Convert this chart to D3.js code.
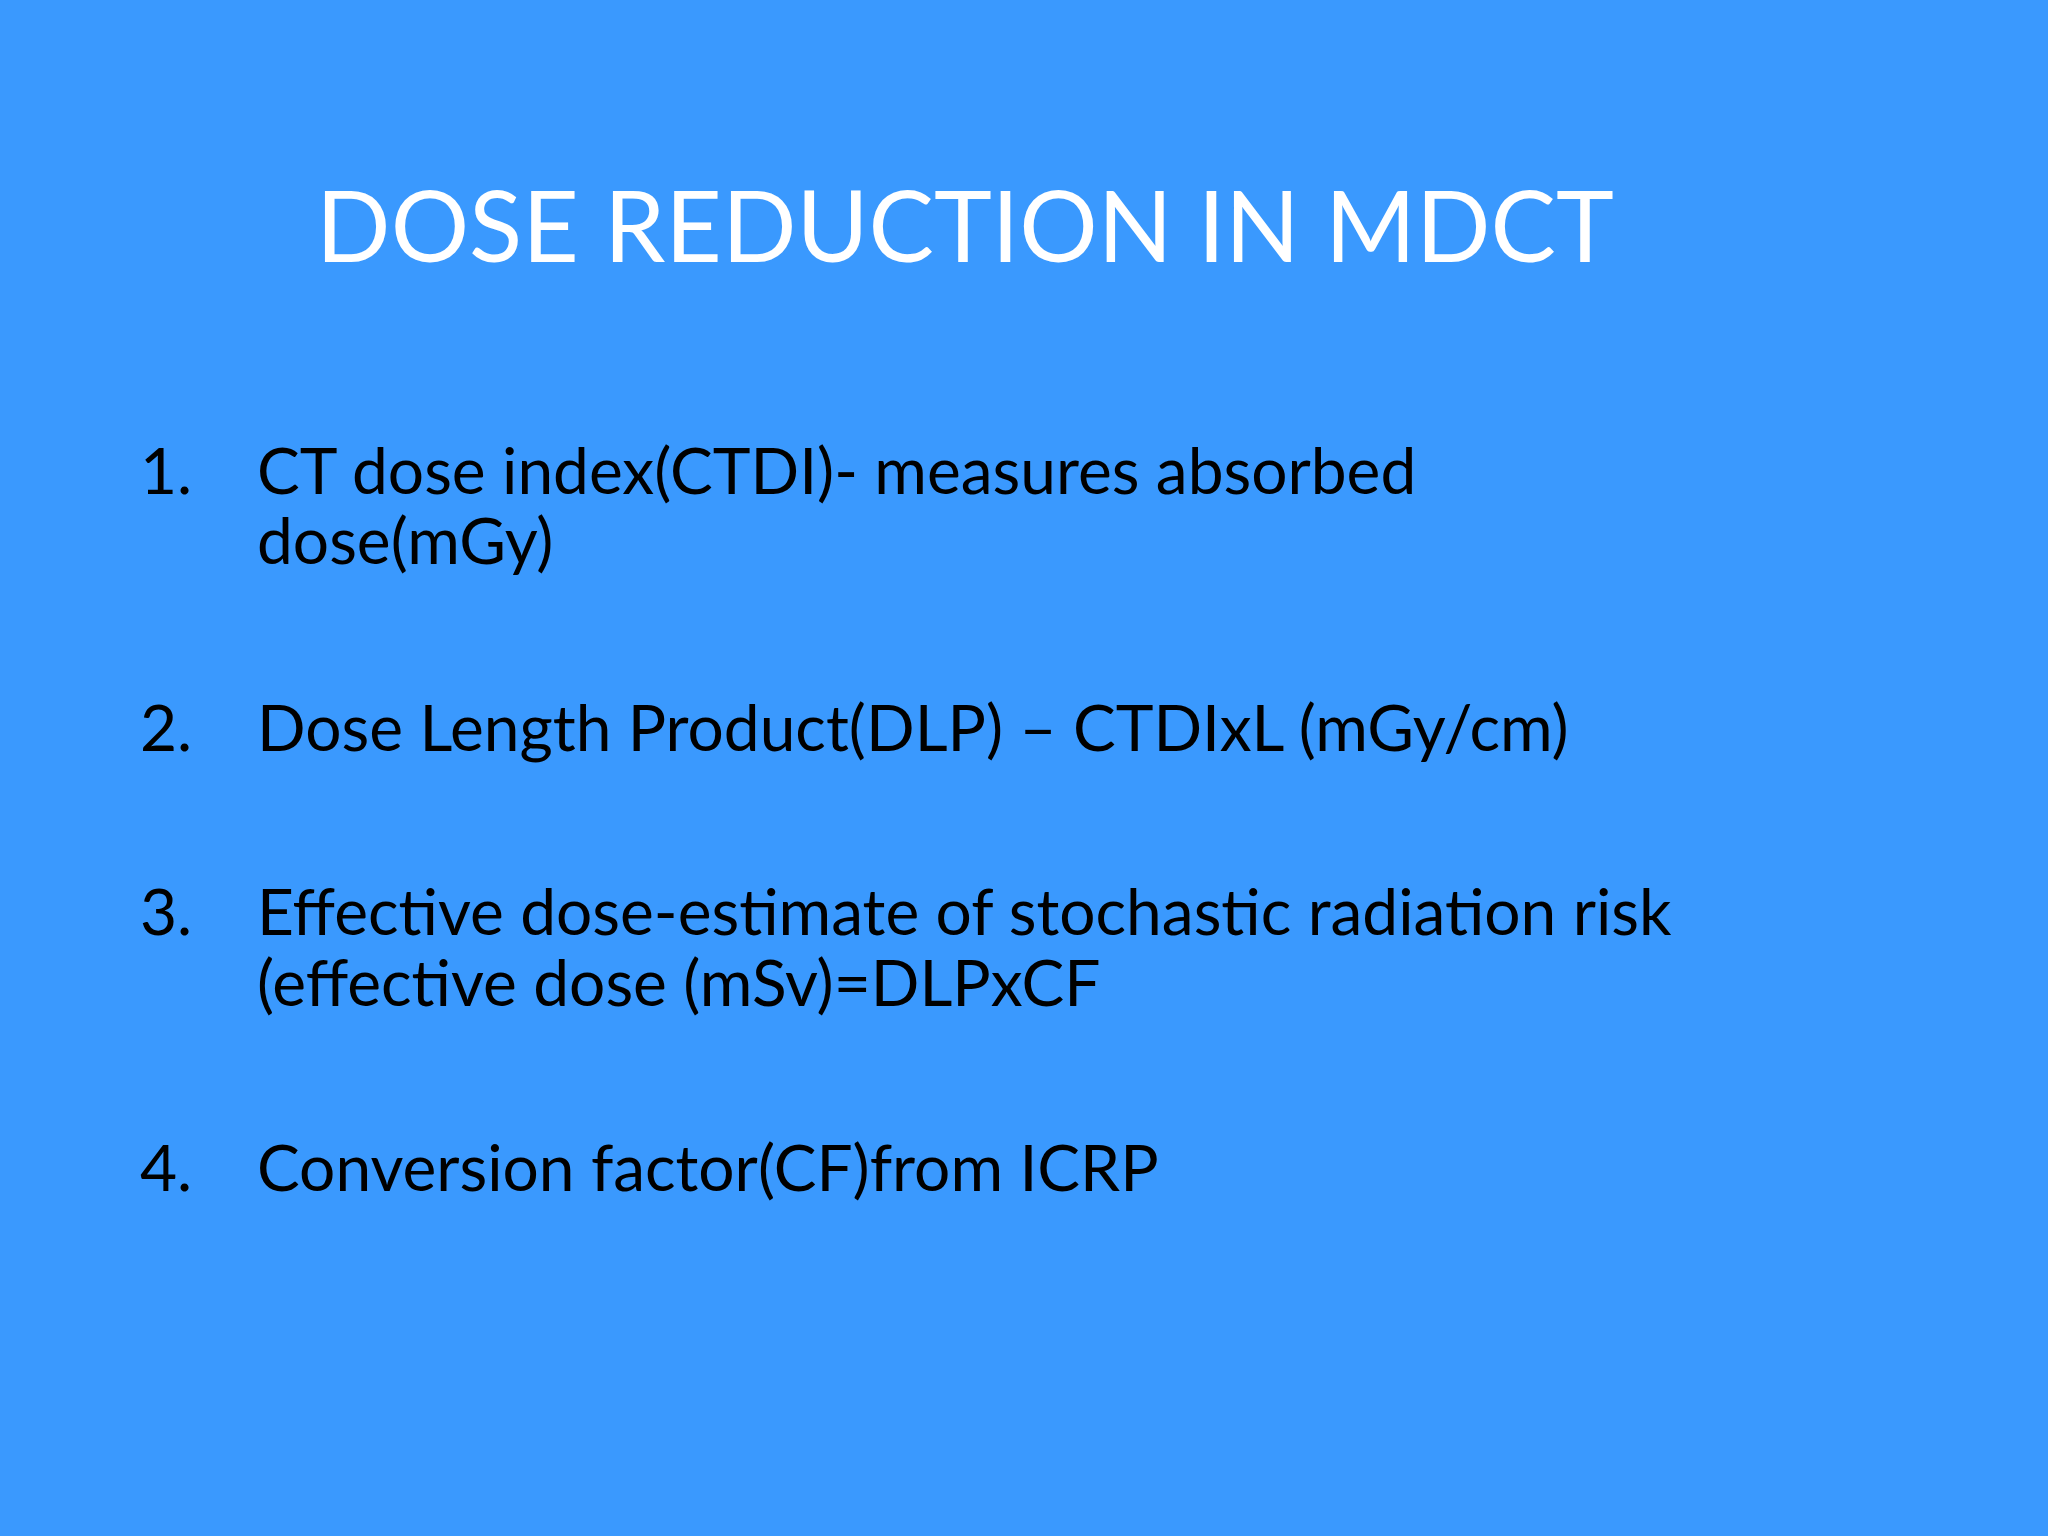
<!DOCTYPE html>
<html><head><meta charset="utf-8">
<script src="https://cdn.jsdelivr.net/npm/d3@7"></script>
<style>body{margin:0;background:#3a99fe;}svg{display:block}</style>
</head><body>
<script>
const title = "DOSE REDUCTION IN MDCT";
const numbers = ["1.", "2.", "3.", "4."];
const items = [
  ["CT dose index(CTDI)- measures absorbed", "dose(mGy)"],
  ["Dose Length Product(DLP) – CTDIxL (mGy/cm)"],
  ["Effective dose-estimate of stochastic radiation risk", "(effective dose (mSv)=DLPxCF"],
  ["Conversion factor(CF)from ICRP"]
];
const baselines = [378, 575, 716, 912];

const W = 2048, H = 1536;
const svg = d3.select("body").append("svg").attr("width", W).attr("height", H);
svg.append("rect").attr("width", W).attr("height", H).attr("fill", "#3a99fe");
const font = "Lato, 'Open Sans', sans-serif";
svg.append("text").attr("x", 965).attr("y", 262).attr("text-anchor", "middle")
  .attr("font-family", font).attr("font-size", 98).attr("fill", "#fff").text(title);

const g = svg.selectAll("g.item").data(items).enter().append("g");
g.append("text").attr("x", 140).attr("y", (d, i) => baselines[i] * 1.306)
  .attr("font-family", font).attr("font-size", 64).attr("fill", "#000")
  .text((d, i) => numbers[i]);
g.each(function(d, i) {
  d3.select(this).selectAll("text.l").data(d).enter().append("text")
    .attr("x", 257).attr("y", (l, j) => (baselines[i] + j * 54) * 1.306)
    .attr("font-family", font).attr("font-size", 64).attr("fill", "#000").text(l => l);
});
</script>
</body></html>
